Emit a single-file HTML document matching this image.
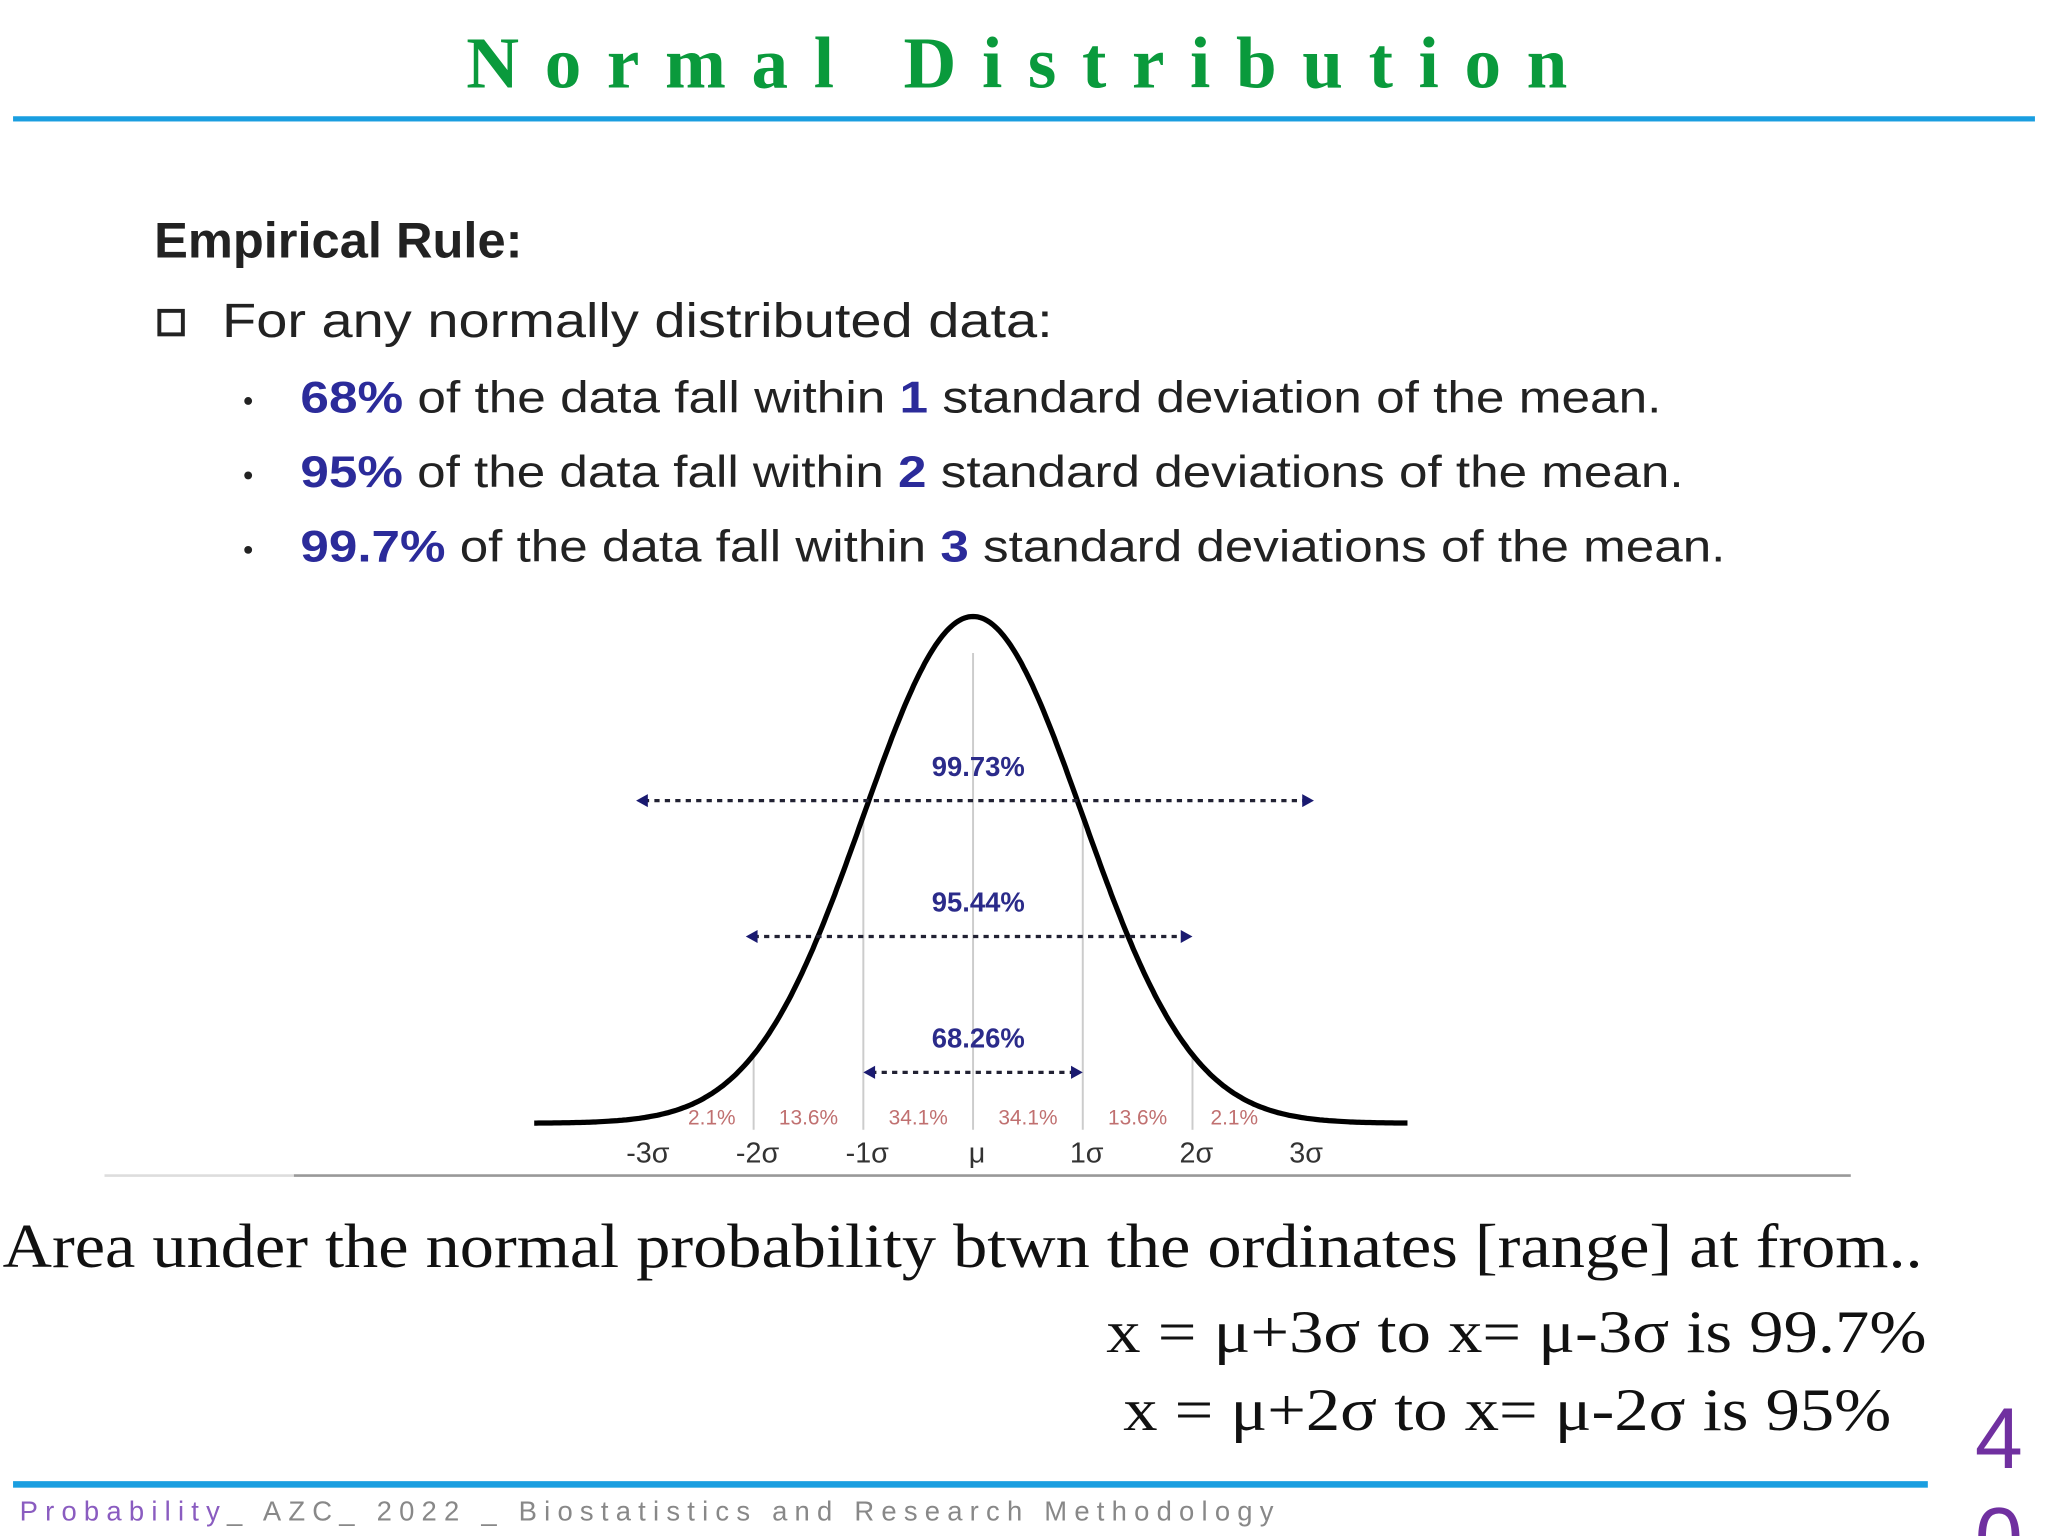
<!DOCTYPE html>
<html><head><meta charset="utf-8"><style>
html,body{margin:0;padding:0;background:#fff;}
svg{display:block;}
</style></head><body>
<svg id="c" width="2048" height="1536" viewBox="0 0 1568 1176" xmlns="http://www.w3.org/2000/svg">
<text x="357" y="67" textLength="843" lengthAdjust="spacing" font-family="Liberation Serif, serif" font-weight="bold" font-size="56" fill="#0a9a3c">Normal Distribution</text>
<rect x="10" y="89" width="1548" height="4" fill="#1a9ee0"/>
<text x="118" y="197" textLength="282" lengthAdjust="spacingAndGlyphs" font-family="Liberation Sans, sans-serif" font-weight="bold" font-size="38" fill="#222">Empirical Rule:</text>
<rect x="122" y="238" width="18" height="18" fill="none" stroke="#222" stroke-width="3"/>
<text x="170" y="258" textLength="636" lengthAdjust="spacingAndGlyphs" font-family="Liberation Sans, sans-serif" font-size="37" fill="#222">For any normally distributed data:</text>
<g font-family="Liberation Sans, sans-serif" font-size="34" fill="#222">
<circle cx="190" cy="307" r="3" fill="#222"/>
<text x="230" y="316" textLength="1042" lengthAdjust="spacingAndGlyphs"><tspan fill="#2b2b9a" font-weight="bold">68%</tspan> of the data fall within <tspan fill="#2b2b9a" font-weight="bold">1</tspan> standard deviation of the mean.</text>
<circle cx="190" cy="364" r="3" fill="#222"/>
<text x="230" y="373" textLength="1059" lengthAdjust="spacingAndGlyphs"><tspan fill="#2b2b9a" font-weight="bold">95%</tspan> of the data fall within <tspan fill="#2b2b9a" font-weight="bold">2</tspan> standard deviations of the mean.</text>
<circle cx="190" cy="421" r="3" fill="#222"/>
<text x="230" y="430" textLength="1091" lengthAdjust="spacingAndGlyphs"><tspan fill="#2b2b9a" font-weight="bold">99.7%</tspan> of the data fall within <tspan fill="#2b2b9a" font-weight="bold">3</tspan> standard deviations of the mean.</text>
</g>
<g id="chart"></g>
<line x1="80" y1="900" x2="225" y2="900" stroke="#ddd" stroke-width="2"/>
<line x1="225" y1="900" x2="1417" y2="900" stroke="#999" stroke-width="2"/>
<g font-family="Liberation Serif, serif" fill="#111">
<text x="2" y="970" textLength="1470" lengthAdjust="spacingAndGlyphs" font-size="48">Area under the normal probability  btwn the ordinates [range] at from..</text>
<text x="847" y="1035" textLength="628" lengthAdjust="spacingAndGlyphs" font-size="46">x = μ+3σ to x= μ-3σ is 99.7%</text>
<text x="860" y="1095" textLength="588" lengthAdjust="spacingAndGlyphs" font-size="46">x = μ+2σ to x= μ-2σ is 95%</text>
</g>
<text x="1512" y="1124" font-family="Liberation Sans, sans-serif" font-size="66" fill="#7030a0">4</text>
<text x="1512" y="1200" font-family="Liberation Sans, sans-serif" font-size="66" fill="#7030a0">0</text>
<rect x="10" y="1134" width="1466" height="5" fill="#1a9ee0"/>
<text x="15" y="1164" textLength="960" lengthAdjust="spacing" font-family="Liberation Sans, sans-serif" font-size="21" fill="#888"><tspan fill="#8a5cc0">Probability</tspan>_ AZC_    2022   _ Biostatistics and Research Methodology</text>
</svg>
<script>
const sigmaTicks = [-3,-2,-1,0,1,2,3];
const tickLabels = ['-3σ','-2σ','-1σ','μ','1σ','2σ','3σ'];
const segmentPercents = ['2.1%','13.6%','34.1%','34.1%','13.6%','2.1%'];
const rangeLabels = ['99.73%','95.44%','68.26%'];
const rangeSigmas = [3,2,1];

const NS='http://www.w3.org/2000/svg';
const g=document.getElementById('chart');
const mu=745, sig=84, base=860, peak=388;
const X=s=>mu+s*sig;
const Y=s=>base-peak*Math.exp(-s*s/2);
function mk(t,a){const e=document.createElementNS(NS,t);for(const k in a)e.setAttribute(k,a[k]);g.appendChild(e);return e;}
sigmaTicks.forEach((s,i)=>{
  if(Math.abs(s)===3) return;
  const top = s===0 ? 500 : Y(s);
  const l=mk('line',{x1:X(s),y1:top,x2:X(s),y2:base+5,stroke:'#ccc','stroke-width':1.5});
  
  
});
let d='';
for(let s=-4.0;s<=3.98;s+=0.02){d+=(d?'L':'M')+X(s).toFixed(1)+','+Y(s).toFixed(1);}
const cv=mk('path',{d:d,fill:'none',stroke:'#000','stroke-width':4});


const ys=[613,717,821];
rangeSigmas.forEach((s,i)=>{
  const y=ys[i];
  const x1=X(-s)+(s===3?-6:s===2?-6:0), x2=X(s)+(s===3?9:0);
  const l=mk('line',{x1:x1+6,y1:y,x2:x2-6,y2:y,stroke:'#223','stroke-width':2.5,'stroke-dasharray':'4 4'});
  
  
  const a1=mk('path',{d:`M${x1},${y} l9,-5 v10 z`,fill:'#1a1a70'});
  
  
  const a2=mk('path',{d:`M${x2},${y} l-9,-5 v10 z`,fill:'#1a1a70'});
  
  
  const t=mk('text',{x:749,y:y-19,'text-anchor':'middle','font-family':'Liberation Sans, sans-serif','font-weight':'bold','font-size':21,fill:'#2b2b8a'});
  t.textContent=rangeLabels[i];
  
  
});
segmentPercents.forEach((p,i)=>{
  const c=(X(sigmaTicks[i])+X(sigmaTicks[i+1]))/2+ (i===0?10:i===5?-10:0);
  const t=mk('text',{x:c,y:861,'text-anchor':'middle','font-family':'Liberation Sans, sans-serif','font-size':16,fill:'#c07070'});
  t.textContent=p;
  
  
});
sigmaTicks.forEach((s,i)=>{
  const t=mk('text',{x:X(s)+3,y:890,'text-anchor':'middle','font-family':'Liberation Sans, sans-serif','font-size':22,fill:'#333'});
  t.textContent=tickLabels[i];
  
  
});
</script>
</body></html>
